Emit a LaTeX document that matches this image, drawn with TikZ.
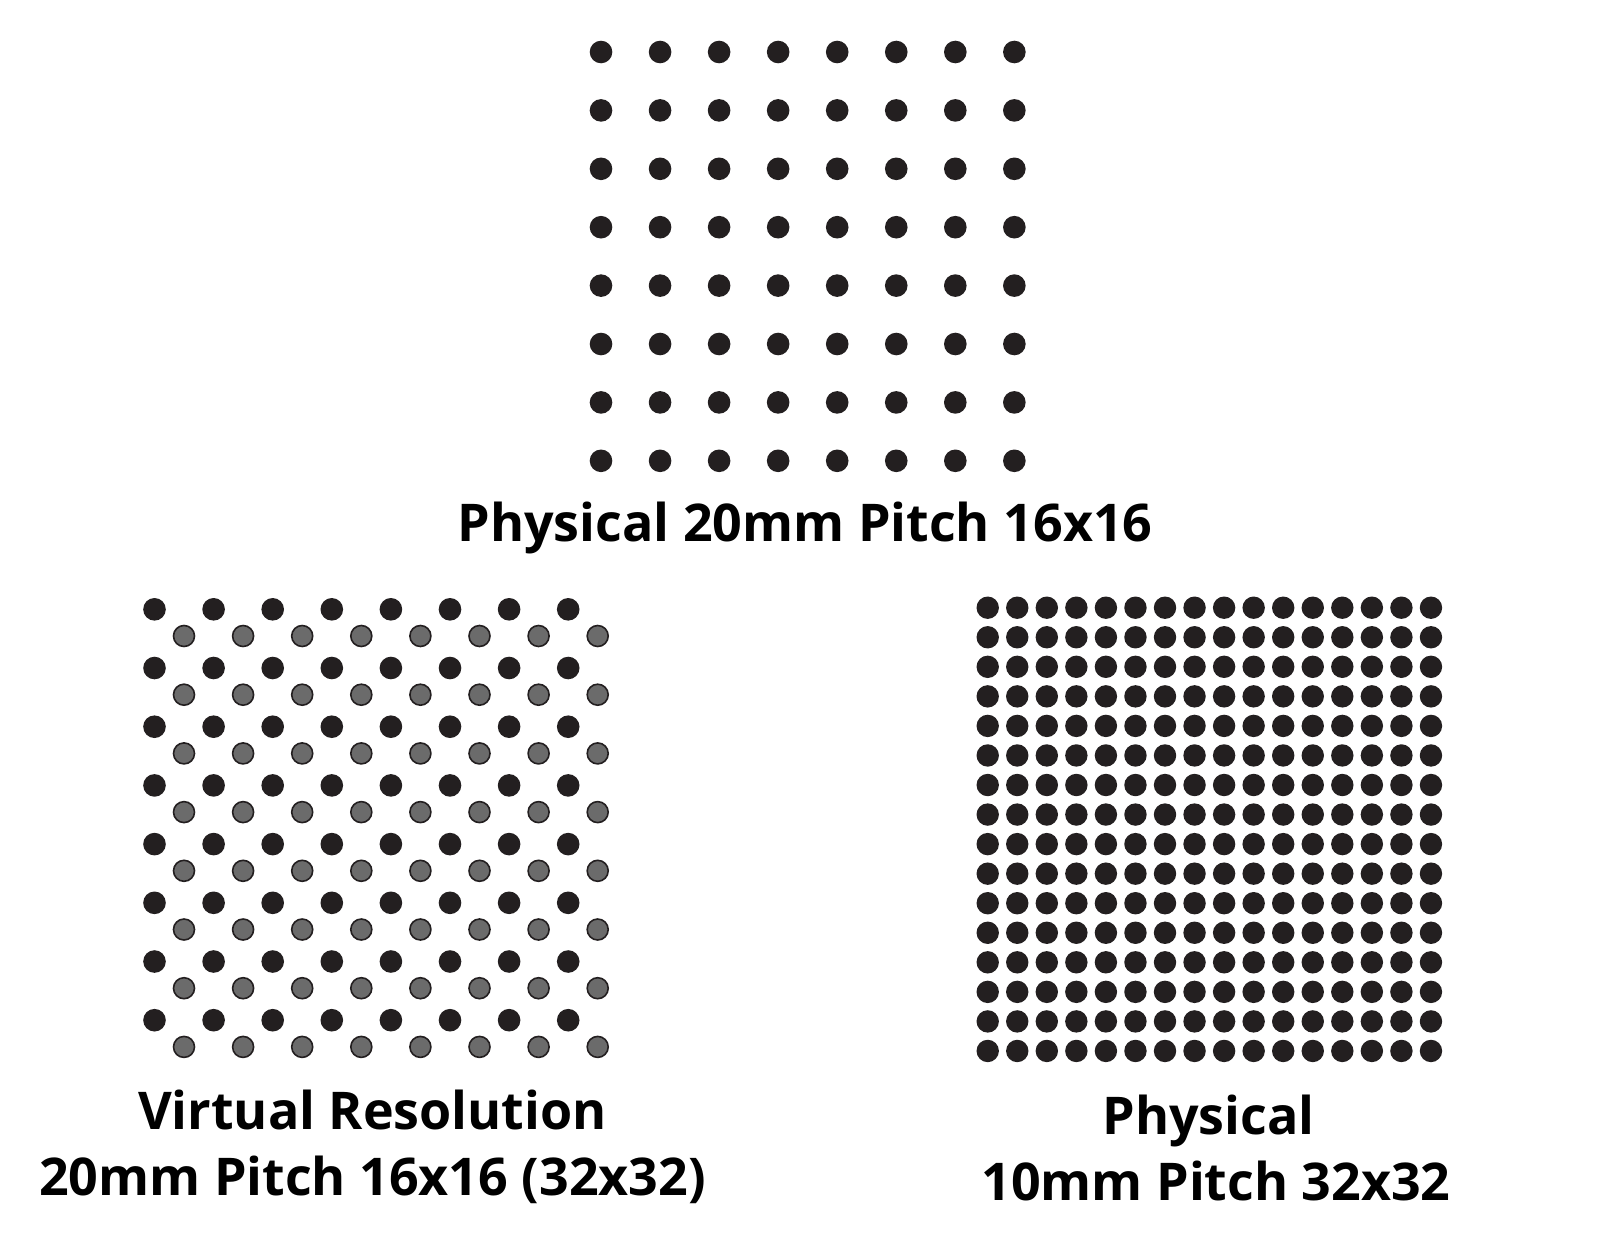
\documentclass[tikz,border=0pt]{standalone}
\usepackage{fontspec}
\setmainfont{Open Sans}
\definecolor{dotblack}{HTML}{231F20}
\definecolor{dotgray}{HTML}{6B6B6B}
\tikzset{
  blackdot/.style={fill=dotblack},
  graydot/.style={fill=dotgray, draw=dotblack, line width=1.6pt},
  label/.style={font=\fontsize{52}{60}\selectfont\bfseries, text=black, inner sep=0pt, anchor=base},
}
\begin{document}
\begin{tikzpicture}[x=1pt, y=-1pt]
\useasboundingbox (0,0) rectangle (1600,1237);
\fill[white] (0,0) rectangle (1600,1237);
% top grid 8x8
\foreach \i in {0,...,7}{
  \foreach \j in {0,...,7}{
    \fill[blackdot] ({601+59.05*\i},{52+58.4*\j}) circle (11.3);
  }
}
\node[label] (t1) at (805,541.7) {Physical 20mm Pitch 16x16};
% bottom left: interleaved
\foreach \i in {0,...,7}{
  \foreach \j in {0,...,7}{
    \fill[blackdot] ({154.5+59.1*\i},{609.3+58.7*\j}) circle (11.3);
    \filldraw[graydot] ({184+59.1*\i},{636+58.7*\j}) circle (10.5);
  }
}
\node[label] (l1) at (372.5,1129) {Virtual Resolution};
\node[label] (l2) at (372.5,1195) {20mm Pitch 16x16 (32x32)};
% bottom right 16x16
\foreach \i in {0,...,15}{
  \foreach \j in {0,...,15}{
    \fill[blackdot] ({987.7+29.55*\i},{607.7+29.55*\j}) circle (11.2);
  }
}
\node[label] (r1) at (1208.5,1134) {Physical};
\node[label] (r2) at (1216,1200) {10mm Pitch 32x32};
\end{tikzpicture}
\end{document}
